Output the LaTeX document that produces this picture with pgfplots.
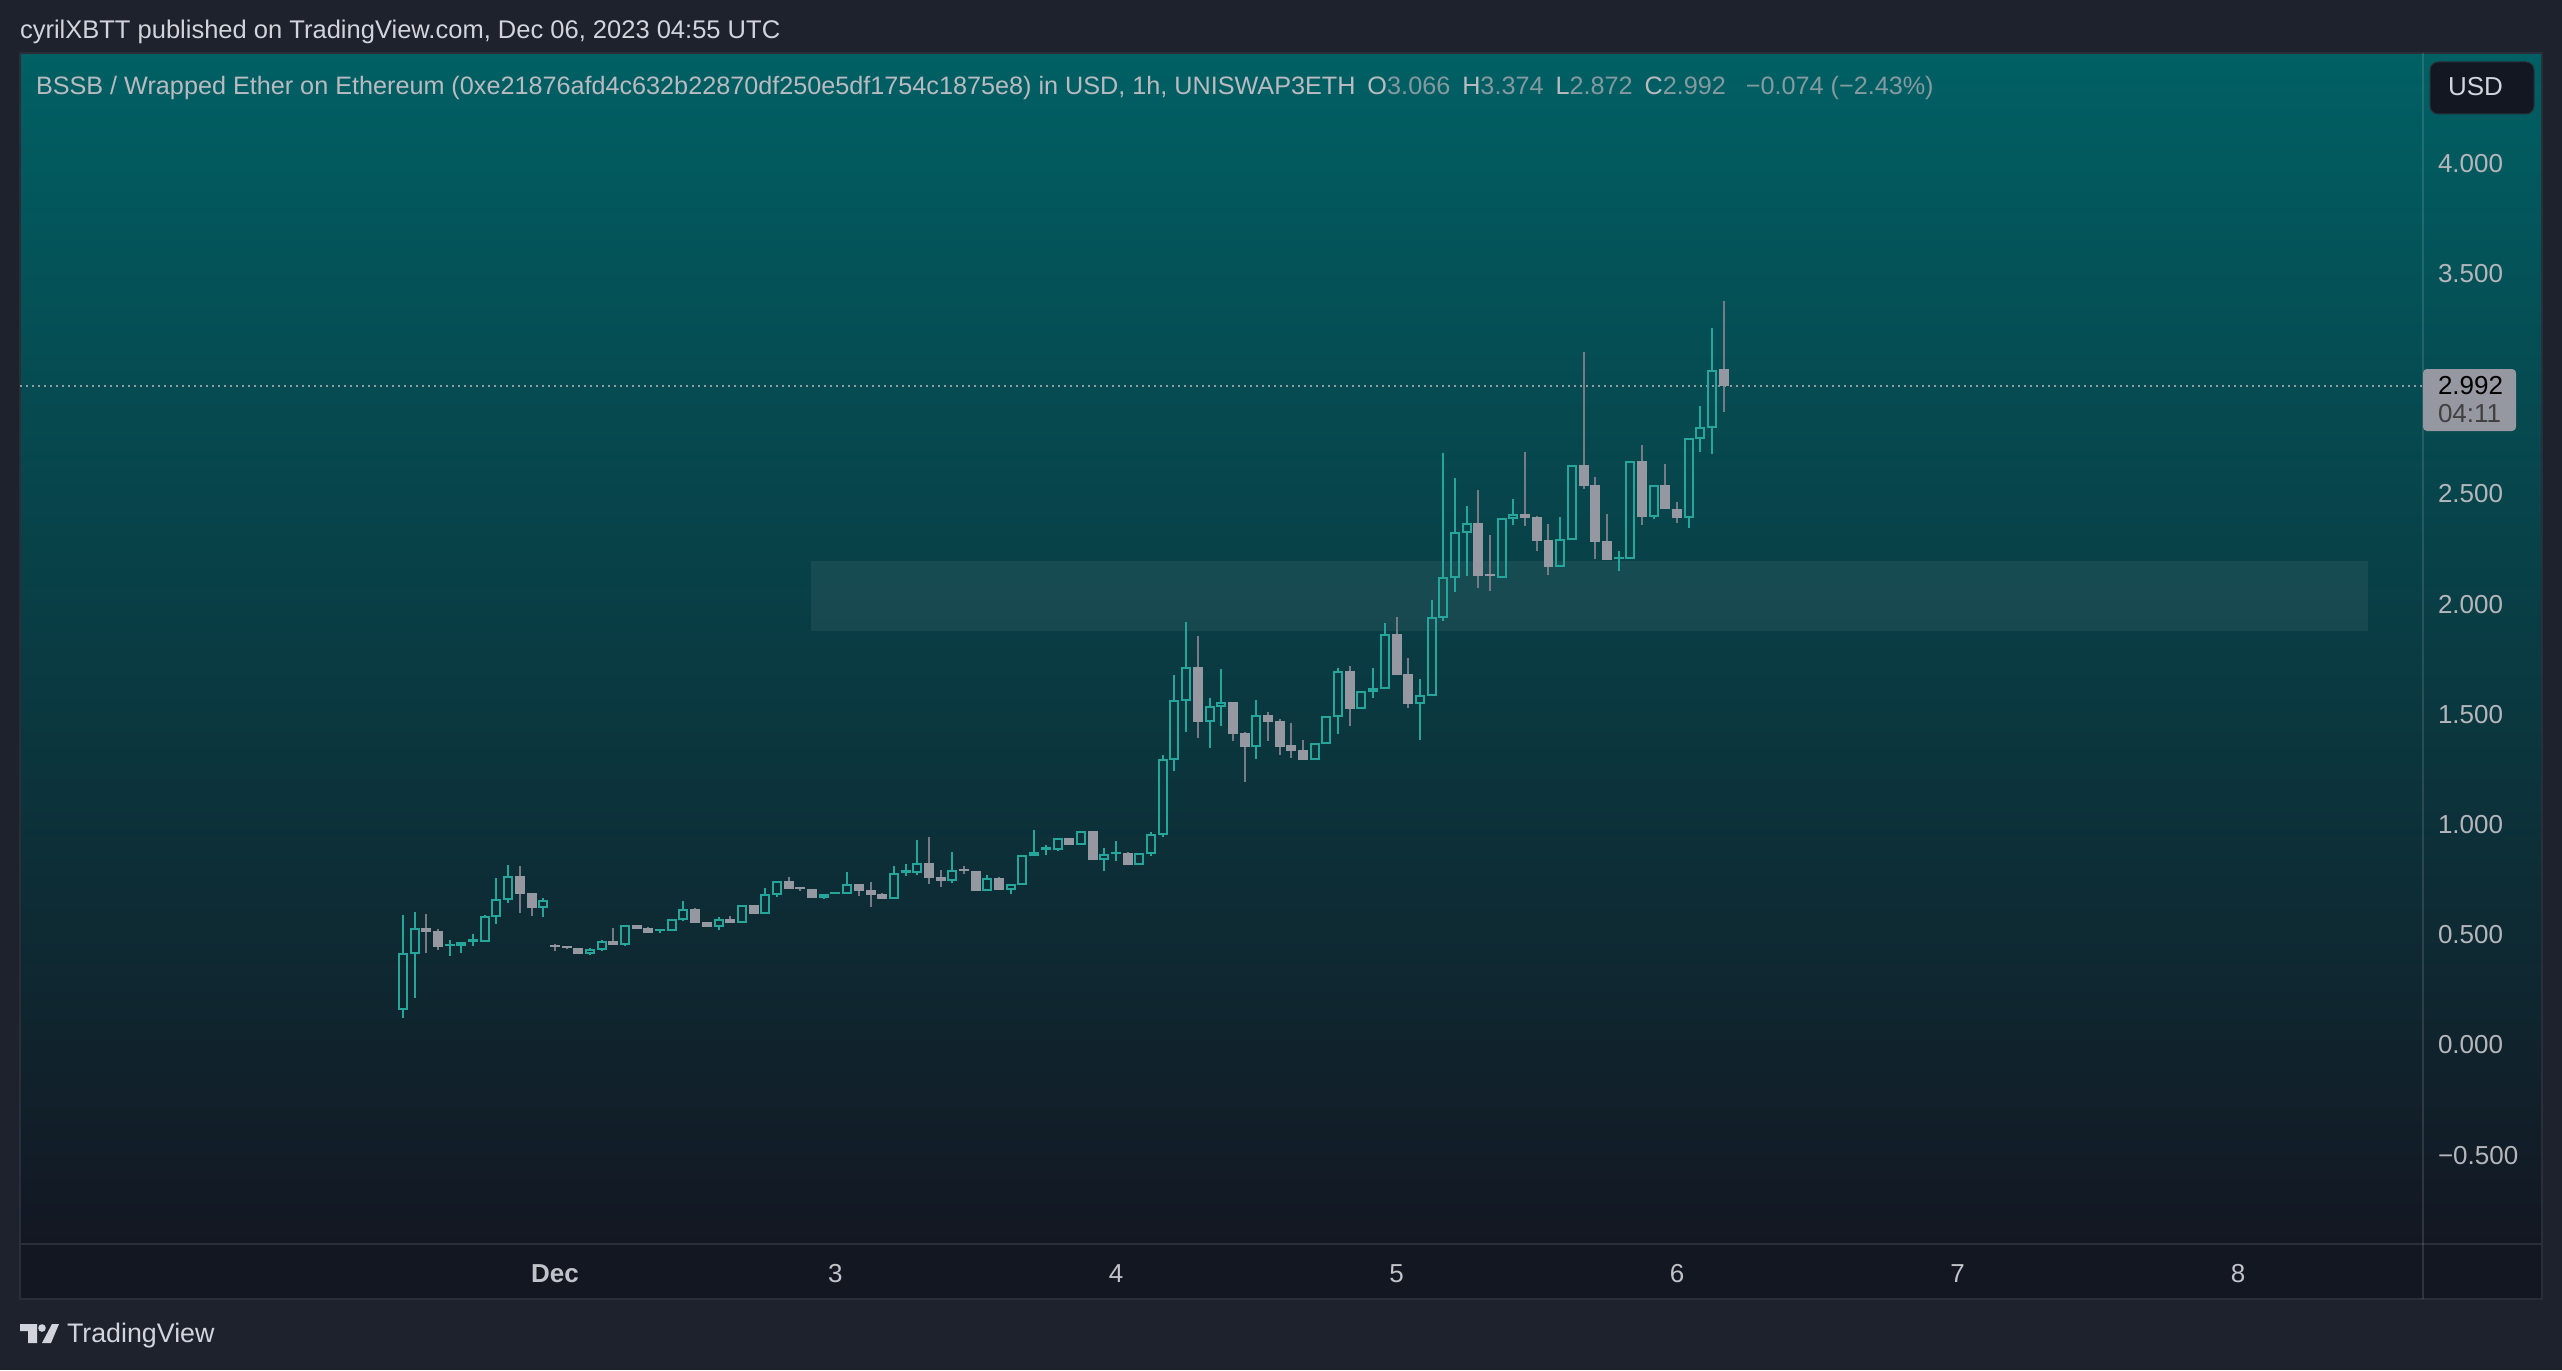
\documentclass[border=0pt]{standalone}
\usepackage{pgfplots}
\usepackage{pgfplotstable}
\usepackage{fontspec}
\setmainfont{Liberation Sans}
\pgfplotsset{compat=1.18}
\usepgfplotslibrary{statistics}
\definecolor{outer}{RGB}{30,34,45}
\definecolor{dark}{RGB}{19,23,34}
\definecolor{topc}{RGB}{0,96,100}
\definecolor{frame}{RGB}{42,46,57}
\definecolor{upc}{RGB}{38,166,154}
\definecolor{dnc}{RGB}{149,152,161}
\definecolor{wickg}{RGB}{120,123,134}
\definecolor{ttxt}{RGB}{209,212,220}
\pgfplotstableread{
x o h l c
0 .165 .590 .124 .411
1 .419 .602 .215 .525
4 .454 .476 .405 .455
5 .455 .467 .419 .463
6 .472 .504 .451 .475
7 .472 .590 .467 .579
8 .587 .758 .551 .656
9 .664 .817 .646 .761
12 .626 .665 .582 .652
16 .417 .440 .408 .430
17 .437 .476 .428 .466
19 .460 .543 .451 .538
22 .522 .526 .508 .523
23 .523 .570 .519 .566
24 .572 .653 .563 .611
27 .540 .581 .522 .566
29 .558 .634 .554 .629
31 .599 .712 .594 .679
32 .687 .743 .672 .738
36 .672 .685 .662 .681
37 .688 .694 .685 .690
38 .690 .785 .685 .726
42 .667 .812 .662 .776
43 .785 .821 .767 .788
44 .785 .930 .771 .820
47 .749 .876 .735 .790
50 .703 .771 .699 .753
52 .708 .731 .685 .726
53 .731 .862 .726 .858
54 .862 .976 .858 .871
55 .891 .907 .862 .894
56 .889 .939 .880 .935
58 .912 .971 .907 .966
60 .844 .894 .790 .862
61 .870 .926 .835 .873
63 .821 .871 .817 .867
64 .871 .966 .858 .953
65 .957 1.316 .944 1.292
66 1.298 1.679 1.243 1.559
67 1.567 1.919 1.420 1.709
69 1.470 1.575 1.348 1.534
70 1.538 1.706 1.447 1.552
73 1.357 1.565 1.298 1.493
78 1.298 1.369 1.293 1.364
79 1.370 1.493 1.366 1.488
80 1.493 1.711 1.411 1.692
82 1.529 1.606 1.525 1.602
83 1.608 1.711 1.575 1.614
84 1.620 1.915 1.615 1.860
87 1.552 1.661 1.384 1.582
88 1.588 2.019 1.584 1.936
89 1.942 2.686 1.924 2.117
90 2.123 2.573 2.055 2.322
91 2.329 2.446 2.128 2.362
94 2.123 2.390 2.119 2.385
95 2.391 2.477 2.359 2.403
99 2.173 2.396 2.169 2.290
100 2.296 2.630 2.291 2.626
104 2.208 2.241 2.151 2.211
105 2.210 2.648 2.205 2.644
107 2.400 2.539 2.387 2.535
110 2.396 2.753 2.346 2.748
111 2.756 2.899 2.691 2.798
112 2.804 3.253 2.682 3.058
}\upcandles
\pgfplotstableread{
x o h l c
2 .529 .594 .419 .514
3 .517 .526 .431 .445
10 .767 .812 .600 .685
11 .690 .690 .585 .622
13 .454 .458 .428 .445
14 .449 .449 .436 .440
15 .440 .440 .413 .413
18 .472 .531 .454 .454
20 .544 .544 .526 .526
21 .531 .535 .508 .508
25 .617 .622 .554 .554
26 .558 .558 .535 .535
28 .572 .585 .554 .554
30 .635 .635 .594 .594
33 .744 .762 .708 .708
34 .717 .717 .699 .708
35 .708 .708 .667 .667
39 .731 .731 .676 .699
40 .703 .740 .626 .681
41 .685 .690 .662 .662
45 .826 .944 .731 .758
46 .762 .794 .717 .744
48 .799 .812 .776 .790
49 .790 .790 .699 .699
51 .758 .762 .703 .703
57 .939 .939 .907 .907
59 .971 .971 .839 .839
62 .871 .876 .817 .817
68 1.715 1.856 1.393 1.466
71 1.556 1.556 1.379 1.411
72 1.416 1.420 1.193 1.352
74 1.497 1.511 1.379 1.466
75 1.470 1.479 1.316 1.352
76 1.361 1.461 1.302 1.334
77 1.339 1.384 1.293 1.293
81 1.697 1.720 1.447 1.525
85 1.865 1.942 1.679 1.679
86 1.683 1.756 1.529 1.547
92 2.368 2.518 2.074 2.128
93 2.137 2.314 2.060 2.128
96 2.409 2.691 2.355 2.391
97 2.396 2.400 2.241 2.287
98 2.291 2.364 2.132 2.169
101 2.632 3.144 2.523 2.536
102 2.541 2.577 2.205 2.282
103 2.287 2.409 2.201 2.201
106 2.650 2.722 2.359 2.396
108 2.541 2.636 2.432 2.432
109 2.432 2.464 2.368 2.391
113 3.066 3.374 2.872 2.992
}\downcandles
\pgfplotstablegetrowsof{\upcandles}\pgfmathtruncatemacro\nup{\pgfplotsretval-1}
\pgfplotstablegetrowsof{\downcandles}\pgfmathtruncatemacro\ndn{\pgfplotsretval-1}
% up candle: hollow teal body, teal wicks
\newcommand\upcandle[5]{\addplot[forget plot,upc,line width=1pt,
  boxplot/draw direction=y,
  boxplot prepared={draw position=#1,lower whisker=#4,lower quartile=#2,median=#2,upper quartile=#5,upper whisker=#3,box extend=.684,whisker extend=0},
  boxplot/every box/.style={draw=upc,line width=1pt,fill=none},
  boxplot/every whisker/.style={draw=upc,line width=1pt},
  boxplot/every median/.style={draw=none}] coordinates {};}
% down candle: filled gray body, darker gray wicks
\newcommand\dncandle[5]{\addplot[forget plot,dnc,line width=1pt,
  boxplot/draw direction=y,
  boxplot prepared={draw position=#1,lower whisker=#4,lower quartile=#5,median=#5,upper quartile=#2,upper whisker=#3,box extend=.855,whisker extend=0},
  boxplot/every box/.style={draw=none,fill=dnc},
  boxplot/every whisker/.style={draw=wickg,line width=1pt},
  boxplot/every median/.style={draw=none}] coordinates {};}
\begin{document}
\begin{tikzpicture}[x=.5pt,y=-.5pt,every node/.style={inner sep=0pt,outer sep=0pt}]
% page and panes (1 unit = 1 reference pixel, y downwards)
\fill[outer] (0,0) rectangle (2562,1370);
\shade[top color=topc,bottom color=dark,shading angle=0] (20,53) rectangle (2542,1244);
\fill[dark] (20,1244) rectangle (2542,1299);
\draw[frame,line width=1pt] (20,53) rectangle (2542,1299);
\draw[frame,line width=1pt] (20,1244) -- (2542,1244);
\begin{scope}[shift={(20,1244)}]
\begin{axis}[
  at={(0,0)},anchor=south west,scale only axis,width=1202pt,height=595.5pt,
  xmin=-32.76,xmax=172.9,ymin=-.903,ymax=4.501,
  axis line style={draw=none},axis x line*=bottom,axis y line*=right,
  clip=true,
  xtick={13,37,61,85,109,133,157},
  xticklabels={\textbf{Dec},3,4,5,6,7,8},
  ytick={-.5,0,.5,1,1.5,2,2.5,3,3.5,4},
  yticklabels={−0.500,0.000,0.500,1.000,1.500,2.000,2.500,3.000,3.500,4.000},
  major tick length=0pt,
  tick label style={font=\fontsize{13}{13}\selectfont},
  yticklabel style={anchor=west,xshift=7pt,text=ttxt!65!gray},
  xticklabel style={text=ttxt!80!gray,anchor=center,yshift=-15pt},
]
% marked zone
\addplot[draw=none,fill=ttxt,fill opacity=.08,forget plot] coordinates {(34.9,1.878)(168.1,1.878)(168.1,2.196)(34.9,2.196)} -- cycle;
% last price line
\addplot[forget plot,dnc,line width=1pt,dash pattern=on 1pt off 2pt] coordinates {(-32.76,2.992)(172.9,2.992)};
\foreach \i in {0,...,\nup}{
  \pgfplotstablegetelem{\i}{x}\of\upcandles\let\cx\pgfplotsretval
  \pgfplotstablegetelem{\i}{o}\of\upcandles\let\co\pgfplotsretval
  \pgfplotstablegetelem{\i}{h}\of\upcandles\let\ch\pgfplotsretval
  \pgfplotstablegetelem{\i}{l}\of\upcandles\let\cl\pgfplotsretval
  \pgfplotstablegetelem{\i}{c}\of\upcandles\let\cc\pgfplotsretval
  \edef\doit{\noexpand\upcandle{\cx}{\co}{\ch}{\cl}{\cc}}\doit
}
\foreach \i in {0,...,\ndn}{
  \pgfplotstablegetelem{\i}{x}\of\downcandles\let\cx\pgfplotsretval
  \pgfplotstablegetelem{\i}{o}\of\downcandles\let\co\pgfplotsretval
  \pgfplotstablegetelem{\i}{h}\of\downcandles\let\ch\pgfplotsretval
  \pgfplotstablegetelem{\i}{l}\of\downcandles\let\cl\pgfplotsretval
  \pgfplotstablegetelem{\i}{c}\of\downcandles\let\cc\pgfplotsretval
  \edef\doit{\noexpand\dncandle{\cx}{\co}{\ch}{\cl}{\cc}}\doit
}
\end{axis}
\end{scope}
% price scale divider
\draw[white,opacity=.12,line width=1pt] (2423,53) -- (2423,1299);
% header
\node[anchor=west,text=ttxt,font=\fontsize{12.76}{13}\selectfont] at (20,32) {cyrilXBTT published on TradingView.com, Dec 06, 2023 04:55 UTC};
\node[anchor=west,font=\fontsize{12.6}{13}\selectfont,text=ttxt!70!gray] at (36,87.5) {BSSB / Wrapped Ether on Ethereum (0xe21876afd4c632b22870df250e5df1754c1875e8) in USD, 1h, UNISWAP3ETH\hspace{6pt}O\textcolor{dnc!85!upc}{3.066}\hspace{6pt}H\textcolor{dnc!85!upc}{3.374}\hspace{6pt}L\textcolor{dnc!85!upc}{2.872}\hspace{6pt}C\textcolor{dnc!85!upc}{2.992}\hspace{10pt}\textcolor{dnc!85!upc}{−0.074 (−2.43\%)}};
% USD button
\draw[fill=dark,draw=frame,line width=.5pt,rounded corners=4pt] (2430,62) rectangle (2534,114);
\node[anchor=west,text=ttxt,font=\fontsize{13}{13}\selectfont] at (2448,87) {USD};
% last price tag
\fill[dnc,rounded corners=2pt] (2423,369) -- (2516,369) -- (2516,431) -- (2423,431) -- cycle;
\node[anchor=west,text=black,font=\fontsize{13}{13}\selectfont] at (2438,386) {2.992};
\node[anchor=west,text=black!75,font=\fontsize{13}{13}\selectfont] at (2438,414) {04:11};
% logo
\fill[ttxt] (20,1324) -- (37,1324) -- (37,1343) -- (28,1343) -- (28,1331) -- (20,1331) -- cycle;
\fill[ttxt] (42,1328) circle[radius=3.8];
\fill[ttxt] (52,1324) -- (59,1324) -- (51,1343) -- (42,1343) -- cycle;
\node[anchor=west,text=ttxt,font=\fontsize{13.4}{14}\selectfont] at (67,1336) {TradingView};
\end{tikzpicture}
\end{document}
